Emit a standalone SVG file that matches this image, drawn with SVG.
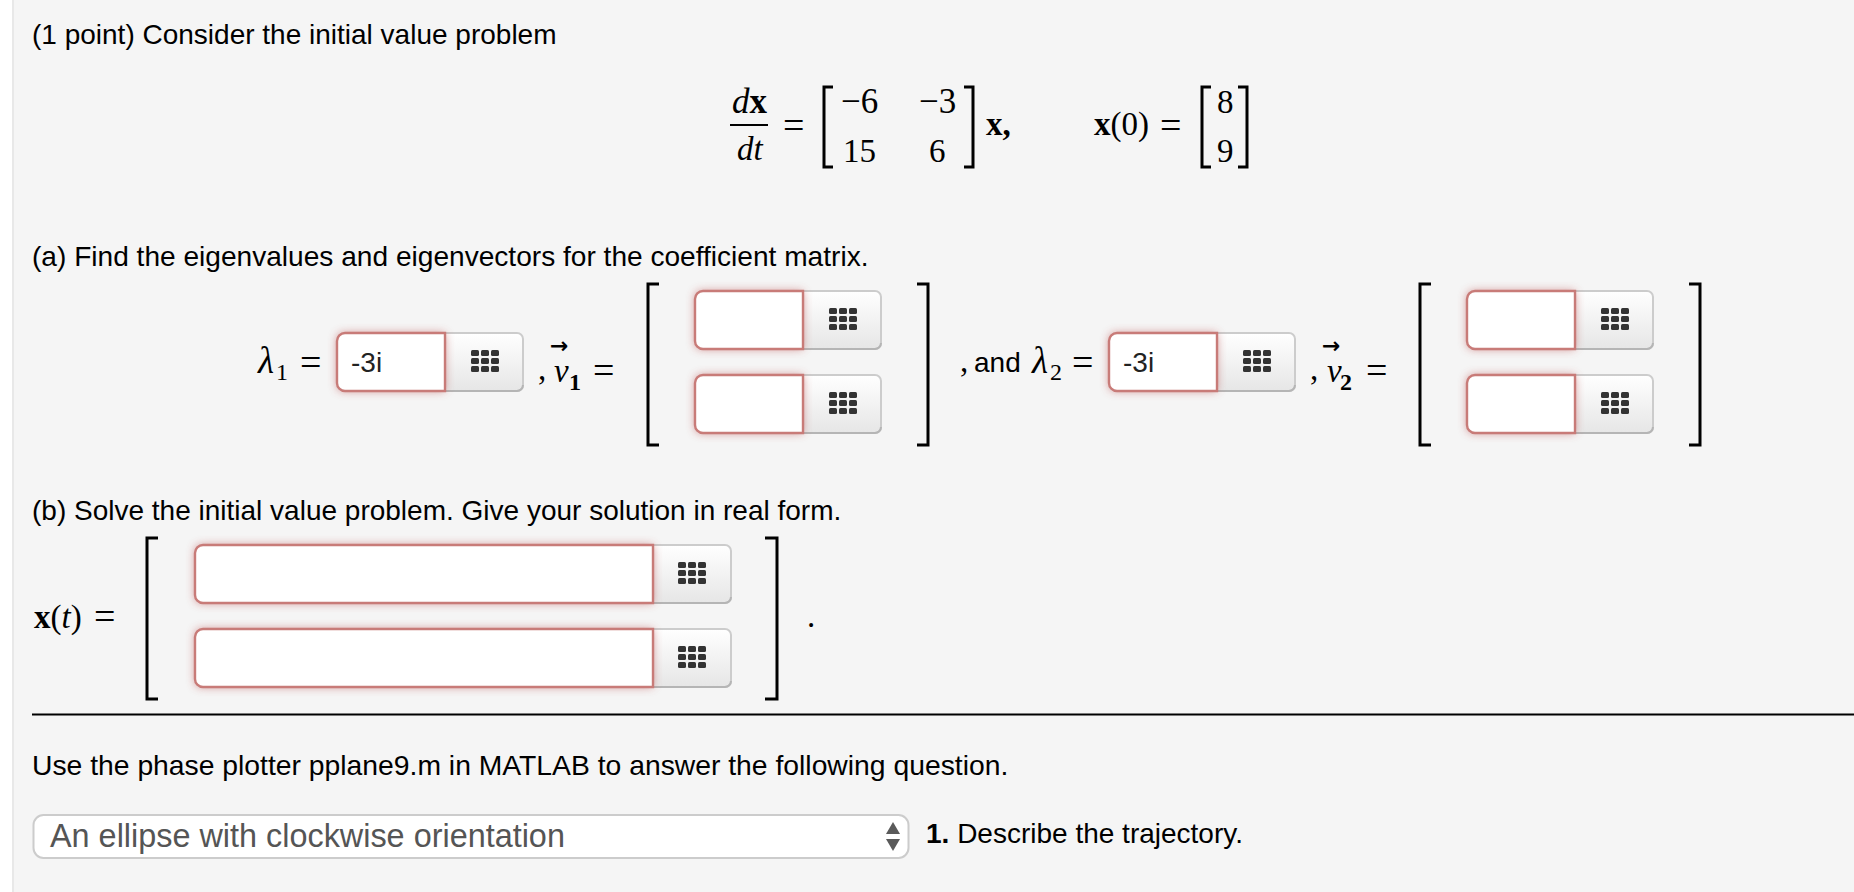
<svg xmlns="http://www.w3.org/2000/svg" xmlns:xlink="http://www.w3.org/1999/xlink" width="1854" height="892" viewBox="0 0 1854 892">
<style>
.t{font-family:"Liberation Sans",Arial,sans-serif;font-size:28px;fill:#000}
.m{font-family:"Liberation Serif","Times New Roman",serif;font-size:33px;fill:#000}
.e{font-size:38px}
.l{font-size:37px}
.i{font-style:italic}
.b{font-weight:bold}
.s{font-size:24px}
.ar{font-family:"DejaVu Sans",sans-serif;font-weight:bold;font-size:22px;fill:#000}
.br{fill:none;stroke:#000;stroke-width:3}
.ans{font-family:"Liberation Sans",Arial,sans-serif;font-size:28px;fill:#222}
.inp{fill:#fff;stroke:#c87b78;stroke-width:2.400}
.glow{fill:#b94a48;opacity:.6;filter:url(#bl)}
.btn{fill:url(#g);stroke:#ccc;stroke-width:2}
.btb{fill:none;stroke:#b5b5b5;stroke-width:2}
</style>
<defs>
<linearGradient id="g" x1="0" y1="0" x2="0" y2="1"><stop offset="0" stop-color="#fff"/><stop offset="1" stop-color="#e6e6e6"/></linearGradient>
<filter id="bl" x="-30%" y="-50%" width="160%" height="200%"><feGaussianBlur stdDeviation="5"/></filter>
<g id="ic" fill="#333">
<rect x="-14" y="-11" width="8" height="6" rx="1.5"/><rect x="-4" y="-11" width="8" height="6" rx="1.5"/><rect x="6" y="-11" width="8" height="6" rx="1.5"/>
<rect x="-14" y="-3" width="8" height="6" rx="1.5"/><rect x="-4" y="-3" width="8" height="6" rx="1.5"/><rect x="6" y="-3" width="8" height="6" rx="1.5"/>
<rect x="-14" y="5" width="8" height="6" rx="1.5"/><rect x="-4" y="5" width="8" height="6" rx="1.5"/><rect x="6" y="5" width="8" height="6" rx="1.5"/>
</g>
<g id="box">
<path class="btn" d="M100 0H180a6 6 0 0 1 6 6V52a6 6 0 0 1-6 6H100z"/>
<path class="btb" d="M108 58H180a6 6 0 0 0 6-6"/>
<path class="glow" d="M6 0H108V58H6a6 6 0 0 1-6-6V6a6 6 0 0 1 6-6z"/>
<path class="inp" d="M8 0H108V58H8a8 8 0 0 1-8-8V8a8 8 0 0 1 8-8z"/>
<use xlink:href="#ic" href="#ic" x="148" y="28"/>
</g>
<g id="wbox">
<path class="btn" d="M450 0H530a6 6 0 0 1 6 6V52a6 6 0 0 1-6 6H450z"/>
<path class="btb" d="M458 58H530a6 6 0 0 0 6-6"/>
<path class="glow" d="M6 0H458V58H6a6 6 0 0 1-6-6V6a6 6 0 0 1 6-6z"/>
<path class="inp" d="M8 0H458V58H8a8 8 0 0 1-8-8V8a8 8 0 0 1 8-8z"/>
<use xlink:href="#ic" href="#ic" x="497" y="28"/>
</g>
</defs>
<rect width="1854" height="892" fill="#f5f5f5"/>
<rect width="12" height="892" fill="#fff"/>
<rect x="12" width="2" height="892" fill="#e8e8e8"/>

<g id="intro">
<text class="t" x="32" y="44">(1 point) Consider the initial value problem</text>
</g>
<g id="ode">
<text class="m" x="732" y="113" style="font-size:35px"><tspan class="i">d</tspan><tspan class="b">x</tspan></text>
<rect x="730" y="124" width="38" height="2"/>
<text class="m i" x="737" y="160">dt</text>
<text class="m e" x="783" y="138">=</text>
<path class="br" d="M833 87H824V167H833"/>
<text class="m" x="841" y="113" style="font-size:35px">−6</text>
<text class="m" x="919" y="113" style="font-size:35px">−3</text>
<text class="m" x="843" y="162">15</text>
<text class="m" x="929" y="162">6</text>
<path class="br" d="M964 87H973V167H964"/>
<text class="m b" x="986" y="135">x,</text>
<text class="m" x="1094" y="135"><tspan class="b">x</tspan>(0)</text>
<text class="m e" x="1160" y="138">=</text>
<path class="br" d="M1211 87H1202V167H1211"/>
<text class="m" x="1217" y="113">8</text>
<text class="m" x="1217" y="162">9</text>
<path class="br" d="M1238 87H1247V167H1238"/>
</g>
<g id="part-a">
<text class="t" x="32" y="266" style="font-size:28.100px">(a) Find the eigenvalues and eigenvectors for the coefficient matrix.</text>
</g>
<g id="lambda1">
<text class="m i l" x="258" y="373">λ</text><text class="m s" x="276" y="380">1</text>
<text class="m e" x="300" y="375">=</text>
<use xlink:href="#box" href="#box" x="337" y="333"/>
<text class="ans" x="351" y="372">-3i</text>
</g>
<g id="v1">
<text class="m" x="538" y="380">,</text>
<text class="ar" x="550" y="353">→</text>
<text class="m i" x="554" y="382">v</text><text class="m b s" x="569" y="390">1</text>
<text class="m e" x="593" y="383">=</text>
<path class="br" d="M659 284H648V445H659"/>
<use xlink:href="#box" href="#box" x="695" y="291"/>
<use xlink:href="#box" href="#box" x="695" y="375"/>
<path class="br" d="M917 284H928V445H917"/>
</g>
<g id="lambda2">
<text class="m" x="960" y="372">,</text>
<text class="t" x="974" y="372">and</text>
<text class="m i l" x="1032" y="373">λ</text><text class="m s" x="1050" y="380">2</text>
<text class="m e" x="1072" y="375">=</text>
<use xlink:href="#box" href="#box" x="1109" y="333"/>
<text class="ans" x="1123" y="372">-3i</text>
</g>
<g id="v2">
<text class="m" x="1310" y="380">,</text>
<text class="ar" x="1322" y="353">→</text>
<text class="m i" x="1327" y="382">v</text><text class="m b s" x="1340" y="390">2</text>
<text class="m e" x="1366" y="383">=</text>
<path class="br" d="M1431 284H1420V445H1431"/>
<use xlink:href="#box" href="#box" x="1467" y="291"/>
<use xlink:href="#box" href="#box" x="1467" y="375"/>
<path class="br" d="M1689 284H1700V445H1689"/>
</g>
<g id="part-b">
<text class="t" x="32" y="520">(b) Solve the initial value problem. Give your solution in real form.</text>
</g>
<g id="solution">
<text class="m" x="34" y="628"><tspan class="b">x</tspan>(<tspan class="i">t</tspan>)</text>
<text class="m e" x="94" y="629">=</text>
<path class="br" d="M158 538H147V699H158"/>
<use xlink:href="#wbox" href="#wbox" x="195" y="545"/>
<use xlink:href="#wbox" href="#wbox" x="195" y="629"/>
<path class="br" d="M765 538H777V699H765"/>
<text class="m" x="807" y="627">.</text>
</g>
<g id="rule"><rect x="32" y="713.5" width="1822" height="2" fill="#000"/></g>
<g id="matlab">
<text class="t" x="32" y="775" style="font-size:28.300px">Use the phase plotter pplane9.m in MATLAB to answer the following question.</text>
</g>
<g id="select">
<rect x="33.500" y="815" width="875" height="43" rx="10" fill="#fff" stroke="#ccc" stroke-width="2"/>
<text x="50" y="847" style="font-family:'Liberation Sans',Arial,sans-serif;font-size:32.400px;fill:#555">An ellipse with clockwise orientation</text>
<path d="M886 834H900L893 822z" fill="#5a5a5a"/><path d="M886 839H900L893 851z" fill="#5a5a5a"/>
</g>
<g id="q1">
<text class="t" x="926" y="843"><tspan class="b">1.</tspan> Describe the trajectory.</text>
</g>
</svg>
